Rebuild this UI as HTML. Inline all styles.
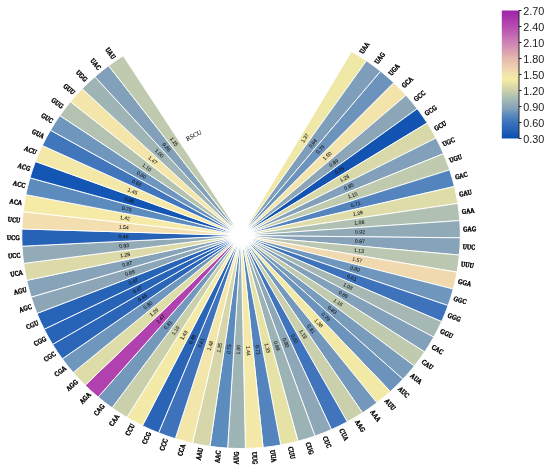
<!DOCTYPE html>
<html><head><meta charset="utf-8"><title>RSCU</title>
<style>html,body{margin:0;padding:0;background:#fff}svg{display:block}.v{font-family:"Liberation Sans",Arial,sans-serif;font-size:5.0px;fill:#1a1a1a;stroke:#1a1a1a;stroke-width:0.08px;text-anchor:middle}.l{font-family:"Liberation Serif","Times New Roman",serif;font-weight:bold;font-size:7.0px;fill:#111;stroke:#000;stroke-width:0.42px}.c{font-family:"Liberation Sans",Arial,sans-serif;font-size:10.3px;fill:#1a1a1a}</style></head><body>
<svg width="550" height="470" viewBox="0 0 550 470">
<rect width="550" height="470" fill="#fff"/>
<g transform="translate(241.05 235.5) scale(1.0294 1)">
<g stroke="#fff" stroke-width="0.9" stroke-linejoin="miter">
<path d="M0 0L107.30 -184.00A213.0 213.0 0 0 1 121.85 -174.70Z" fill="#efe8a6"/>
<path d="M0 0L121.85 -174.70A213.0 213.0 0 0 1 135.60 -164.26Z" fill="#7e9eba"/>
<path d="M0 0L135.60 -164.26A213.0 213.0 0 0 1 148.45 -152.74Z" fill="#6b93bc"/>
<path d="M0 0L148.45 -152.74A213.0 213.0 0 0 1 160.33 -140.22Z" fill="#f3e4ac"/>
<path d="M0 0L160.33 -140.22A213.0 213.0 0 0 1 171.16 -126.78Z" fill="#8ca6b8"/>
<path d="M0 0L171.16 -126.78A213.0 213.0 0 0 1 180.86 -112.50Z" fill="#1354b3"/>
<path d="M0 0L180.86 -112.50A213.0 213.0 0 0 1 189.38 -97.49Z" fill="#d8d8a9"/>
<path d="M0 0L189.38 -97.49A213.0 213.0 0 0 1 196.65 -81.83Z" fill="#82a0ba"/>
<path d="M0 0L196.65 -81.83A213.0 213.0 0 0 1 202.63 -65.64Z" fill="#c0caae"/>
<path d="M0 0L202.63 -65.64A213.0 213.0 0 0 1 207.28 -49.02Z" fill="#5384bd"/>
<path d="M0 0L207.28 -49.02A213.0 213.0 0 0 1 210.57 -32.07Z" fill="#dedca8"/>
<path d="M0 0L210.57 -32.07A213.0 213.0 0 0 1 212.48 -14.92Z" fill="#b0c0b2"/>
<path d="M0 0L212.48 -14.92A213.0 213.0 0 0 1 212.99 2.34Z" fill="#91aab7"/>
<path d="M0 0L212.99 2.34A213.0 213.0 0 0 1 212.10 19.57Z" fill="#87a3b9"/>
<path d="M0 0L212.10 19.57A213.0 213.0 0 0 1 209.82 36.68Z" fill="#bbc7b0"/>
<path d="M0 0L209.82 36.68A213.0 213.0 0 0 1 206.16 53.55Z" fill="#f1d9af"/>
<path d="M0 0L206.16 53.55A213.0 213.0 0 0 1 201.14 70.07Z" fill="#6f96bc"/>
<path d="M0 0L201.14 70.07A213.0 213.0 0 0 1 194.81 86.13Z" fill="#3e73bc"/>
<path d="M0 0L194.81 86.13A213.0 213.0 0 0 1 187.20 101.62Z" fill="#a5b8b4"/>
<path d="M0 0L187.20 101.62A213.0 213.0 0 0 1 178.35 116.44Z" fill="#82a0ba"/>
<path d="M0 0L178.35 116.44A213.0 213.0 0 0 1 168.34 130.50Z" fill="#c0caae"/>
<path d="M0 0L168.34 130.50A213.0 213.0 0 0 1 157.22 143.71Z" fill="#7a9cbb"/>
<path d="M0 0L157.22 143.71A213.0 213.0 0 0 1 145.07 155.96Z" fill="#6b93bc"/>
<path d="M0 0L145.07 155.96A213.0 213.0 0 0 1 131.96 167.20Z" fill="#f1e9a5"/>
<path d="M0 0L131.96 167.20A213.0 213.0 0 0 1 117.99 177.34Z" fill="#7398bb"/>
<path d="M0 0L117.99 177.34A213.0 213.0 0 0 1 103.24 186.31Z" fill="#cacfac"/>
<path d="M0 0L103.24 186.31A213.0 213.0 0 0 1 87.82 194.05Z" fill="#4074bc"/>
<path d="M0 0L87.82 194.05A213.0 213.0 0 0 1 71.82 200.53Z" fill="#8ea7b8"/>
<path d="M0 0L71.82 200.53A213.0 213.0 0 0 1 55.34 205.68Z" fill="#9cb3b5"/>
<path d="M0 0L55.34 205.68A213.0 213.0 0 0 1 38.51 209.49Z" fill="#e6e2a6"/>
<path d="M0 0L38.51 209.49A213.0 213.0 0 0 1 21.42 211.92Z" fill="#5384bd"/>
<path d="M0 0L21.42 211.92A213.0 213.0 0 0 1 4.19 212.96Z" fill="#f4e9a8"/>
<path d="M0 0L4.19 212.96A213.0 213.0 0 0 1 -13.07 212.60Z" fill="#9eb4b5"/>
<path d="M0 0L-13.07 212.60A213.0 213.0 0 0 1 -30.24 210.84Z" fill="#5c8bbd"/>
<path d="M0 0L-30.24 210.84A213.0 213.0 0 0 1 -47.22 207.70Z" fill="#d6d6aa"/>
<path d="M0 0L-47.22 207.70A213.0 213.0 0 0 1 -63.88 203.20Z" fill="#f3e6ab"/>
<path d="M0 0L-63.88 203.20A213.0 213.0 0 0 1 -80.12 197.36Z" fill="#3e73bc"/>
<path d="M0 0L-80.12 197.36A213.0 213.0 0 0 1 -95.84 190.22Z" fill="#2964b7"/>
<path d="M0 0L-95.84 190.22A213.0 213.0 0 0 1 -110.93 181.83Z" fill="#f4eaa7"/>
<path d="M0 0L-110.93 181.83A213.0 213.0 0 0 1 -125.29 172.26Z" fill="#cacfac"/>
<path d="M0 0L-125.29 172.26A213.0 213.0 0 0 1 -138.83 161.54Z" fill="#7398bb"/>
<path d="M0 0L-138.83 161.54A213.0 213.0 0 0 1 -151.45 149.77Z" fill="#b041ae"/>
<path d="M0 0L-151.45 149.77A213.0 213.0 0 0 1 -163.08 137.02Z" fill="#dedca8"/>
<path d="M0 0L-163.08 137.02A213.0 213.0 0 0 1 -173.64 123.36Z" fill="#6f96bc"/>
<path d="M0 0L-173.64 123.36A213.0 213.0 0 0 1 -183.06 108.90Z" fill="#2a65b8"/>
<path d="M0 0L-183.06 108.90A213.0 213.0 0 0 1 -191.27 93.72Z" fill="#2763b7"/>
<path d="M0 0L-191.27 93.72A213.0 213.0 0 0 1 -198.24 77.92Z" fill="#2763b7"/>
<path d="M0 0L-198.24 77.92A213.0 213.0 0 0 1 -203.89 61.61Z" fill="#8ca6b8"/>
<path d="M0 0L-203.89 61.61A213.0 213.0 0 0 1 -208.21 44.90Z" fill="#87a3b9"/>
<path d="M0 0L-208.21 44.90A213.0 213.0 0 0 1 -211.17 27.89Z" fill="#dcdaa8"/>
<path d="M0 0L-211.17 27.89A213.0 213.0 0 0 1 -212.73 10.70Z" fill="#93abb7"/>
<path d="M0 0L-212.73 10.70A213.0 213.0 0 0 1 -212.90 -6.56Z" fill="#2662b6"/>
<path d="M0 0L-212.90 -6.56A213.0 213.0 0 0 1 -211.67 -23.77Z" fill="#f2deae"/>
<path d="M0 0L-211.67 -23.77A213.0 213.0 0 0 1 -209.05 -40.84Z" fill="#f5eaa6"/>
<path d="M0 0L-209.05 -40.84A213.0 213.0 0 0 1 -205.06 -57.63Z" fill="#5c8bbd"/>
<path d="M0 0L-205.06 -57.63A213.0 213.0 0 0 1 -199.72 -74.04Z" fill="#1456b4"/>
<path d="M0 0L-199.72 -74.04A213.0 213.0 0 0 1 -193.06 -89.97Z" fill="#f4e8a8"/>
<path d="M0 0L-193.06 -89.97A213.0 213.0 0 0 1 -185.15 -105.31Z" fill="#4276bc"/>
<path d="M0 0L-185.15 -105.31A213.0 213.0 0 0 1 -176.01 -119.96Z" fill="#6f96bc"/>
<path d="M0 0L-176.01 -119.96A213.0 213.0 0 0 1 -165.72 -133.81Z" fill="#b4c3b1"/>
<path d="M0 0L-165.72 -133.81A213.0 213.0 0 0 1 -154.34 -146.79Z" fill="#f4e6aa"/>
<path d="M0 0L-154.34 -146.79A213.0 213.0 0 0 1 -141.95 -158.81Z" fill="#9eb4b5"/>
<path d="M0 0L-141.95 -158.81A213.0 213.0 0 0 1 -128.62 -169.78Z" fill="#82a0ba"/>
<path d="M0 0L-128.62 -169.78A213.0 213.0 0 0 1 -114.45 -179.64Z" fill="#c0caae"/>
</g>
<defs><radialGradient id="gl"><stop offset="0" stop-color="#fff" stop-opacity="1"/><stop offset="0.55" stop-color="#fff" stop-opacity="1"/><stop offset="0.8" stop-color="#fff" stop-opacity="0.55"/><stop offset="1" stop-color="#fff" stop-opacity="0"/></radialGradient></defs>
<circle cx="0" cy="0" r="15" fill="url(#gl)"/>
<text class="v" transform="translate(61.86 -96.83) rotate(-57.43)" x="0.7" dy="0.31em">1.37</text>
<text class="v" transform="translate(69.50 -91.50) rotate(-52.78)" x="0.7" dy="0.31em">0.84</text>
<text class="v" transform="translate(76.68 -85.57) rotate(-48.14)" x="0.7" dy="0.31em">0.79</text>
<text class="v" transform="translate(83.35 -79.08) rotate(-43.49)" x="0.7" dy="0.31em">1.50</text>
<text class="v" transform="translate(89.48 -72.07) rotate(-38.85)" x="0.7" dy="0.31em">0.89</text>
<text class="v" transform="translate(95.03 -64.59) rotate(-34.21)" x="0.7" dy="0.31em">0.35</text>
<text class="v" transform="translate(99.94 -56.69) rotate(-29.56)" x="0.7" dy="0.31em">1.26</text>
<text class="v" transform="translate(104.21 -48.41) rotate(-24.92)" x="0.7" dy="0.31em">0.85</text>
<text class="v" transform="translate(107.78 -39.81) rotate(-20.27)" x="0.7" dy="0.31em">1.15</text>
<text class="v" transform="translate(110.65 -30.95) rotate(-15.63)" x="0.7" dy="0.31em">0.71</text>
<text class="v" transform="translate(112.80 -21.89) rotate(-10.98)" x="0.7" dy="0.31em">1.29</text>
<text class="v" transform="translate(114.20 -12.68) rotate(-6.34)" x="0.7" dy="0.31em">1.08</text>
<text class="v" transform="translate(114.85 -3.40) rotate(-1.69)" x="0.7" dy="0.31em">0.92</text>
<text class="v" transform="translate(114.75 5.91) rotate(2.95)" x="0.7" dy="0.31em">0.87</text>
<text class="v" transform="translate(113.89 15.19) rotate(7.60)" x="0.7" dy="0.31em">1.13</text>
<text class="v" transform="translate(112.29 24.36) rotate(12.24)" x="0.7" dy="0.31em">1.57</text>
<text class="v" transform="translate(109.95 33.37) rotate(16.88)" x="0.7" dy="0.31em">0.80</text>
<text class="v" transform="translate(106.88 42.16) rotate(21.53)" x="0.7" dy="0.31em">0.61</text>
<text class="v" transform="translate(103.12 50.68) rotate(26.17)" x="0.7" dy="0.31em">1.03</text>
<text class="v" transform="translate(98.68 58.86) rotate(30.82)" x="0.7" dy="0.31em">0.85</text>
<text class="v" transform="translate(93.59 66.66) rotate(35.46)" x="0.7" dy="0.31em">1.15</text>
<text class="v" transform="translate(87.88 74.02) rotate(40.11)" x="0.7" dy="0.31em">0.83</text>
<text class="v" transform="translate(81.60 80.89) rotate(44.75)" x="0.7" dy="0.31em">0.79</text>
<text class="v" transform="translate(74.78 87.23) rotate(49.40)" x="0.7" dy="0.31em">1.38</text>
<text class="v" transform="translate(67.47 93.00) rotate(54.04)" x="0.7" dy="0.31em">0.81</text>
<text class="v" transform="translate(59.72 98.16) rotate(58.68)" x="0.7" dy="0.31em">1.19</text>
<text class="v" transform="translate(51.57 102.67) rotate(63.33)" x="0.7" dy="0.31em">0.62</text>
<text class="v" transform="translate(43.09 106.51) rotate(67.97)" x="0.7" dy="0.31em">0.90</text>
<text class="v" transform="translate(34.32 109.65) rotate(72.62)" x="0.7" dy="0.31em">0.99</text>
<text class="v" transform="translate(25.33 112.07) rotate(77.26)" x="0.7" dy="0.31em">1.33</text>
<text class="v" transform="translate(16.18 113.76) rotate(81.91)" x="0.7" dy="0.31em">0.71</text>
<text class="v" transform="translate(6.91 114.69) rotate(86.55)" x="0.7" dy="0.31em">1.44</text>
<text class="v" transform="translate(-2.40 114.87) rotate(-88.80)" x="0.7" dy="0.31em">1.00</text>
<text class="v" transform="translate(-11.69 114.30) rotate(-84.16)" x="0.7" dy="0.31em">0.75</text>
<text class="v" transform="translate(-20.91 112.98) rotate(-79.51)" x="0.7" dy="0.31em">1.25</text>
<text class="v" transform="translate(-29.99 110.92) rotate(-74.87)" x="0.7" dy="0.31em">1.48</text>
<text class="v" transform="translate(-38.87 108.12) rotate(-70.23)" x="0.7" dy="0.31em">0.61</text>
<text class="v" transform="translate(-47.50 104.62) rotate(-65.58)" x="0.7" dy="0.31em">0.48</text>
<text class="v" transform="translate(-55.82 100.43) rotate(-60.94)" x="0.7" dy="0.31em">1.43</text>
<text class="v" transform="translate(-63.76 95.58) rotate(-56.29)" x="0.7" dy="0.31em">1.19</text>
<text class="v" transform="translate(-71.29 90.11) rotate(-51.65)" x="0.7" dy="0.31em">0.81</text>
<text class="v" transform="translate(-78.36 84.04) rotate(-47.00)" x="0.7" dy="0.31em">2.47</text>
<text class="v" transform="translate(-84.90 77.42) rotate(-42.36)" x="0.7" dy="0.31em">1.29</text>
<text class="v" transform="translate(-90.89 70.29) rotate(-37.71)" x="0.7" dy="0.31em">0.80</text>
<text class="v" transform="translate(-96.29 62.70) rotate(-33.07)" x="0.7" dy="0.31em">0.49</text>
<text class="v" transform="translate(-101.05 54.69) rotate(-28.43)" x="0.7" dy="0.31em">0.47</text>
<text class="v" transform="translate(-105.14 46.33) rotate(-23.78)" x="0.7" dy="0.31em">0.47</text>
<text class="v" transform="translate(-108.55 37.67) rotate(-19.14)" x="0.7" dy="0.31em">0.89</text>
<text class="v" transform="translate(-111.24 28.75) rotate(-14.49)" x="0.7" dy="0.31em">0.87</text>
<text class="v" transform="translate(-113.21 19.65) rotate(-9.85)" x="0.7" dy="0.31em">1.28</text>
<text class="v" transform="translate(-114.43 10.42) rotate(-5.20)" x="0.7" dy="0.31em">0.93</text>
<text class="v" transform="translate(-114.89 1.12) rotate(-0.56)" x="0.7" dy="0.31em">0.46</text>
<text class="v" transform="translate(-114.61 -8.19) rotate(4.09)" x="0.7" dy="0.31em">1.54</text>
<text class="v" transform="translate(-113.57 -17.44) rotate(8.73)" x="0.7" dy="0.31em">1.42</text>
<text class="v" transform="translate(-111.78 -26.58) rotate(13.38)" x="0.7" dy="0.31em">0.75</text>
<text class="v" transform="translate(-109.26 -35.54) rotate(18.02)" x="0.7" dy="0.31em">0.36</text>
<text class="v" transform="translate(-106.03 -44.27) rotate(22.66)" x="0.7" dy="0.31em">1.45</text>
<text class="v" transform="translate(-102.09 -52.71) rotate(27.31)" x="0.7" dy="0.31em">0.63</text>
<text class="v" transform="translate(-97.49 -60.81) rotate(31.95)" x="0.7" dy="0.31em">0.80</text>
<text class="v" transform="translate(-92.25 -68.50) rotate(36.60)" x="0.7" dy="0.31em">1.10</text>
<text class="v" transform="translate(-86.40 -75.75) rotate(41.24)" x="0.7" dy="0.31em">1.47</text>
<text class="v" transform="translate(-79.98 -82.49) rotate(45.89)" x="0.7" dy="0.31em">1.00</text>
<text class="v" transform="translate(-73.04 -88.70) rotate(50.53)" x="0.7" dy="0.31em">0.85</text>
<text class="v" transform="translate(-65.61 -94.32) rotate(55.18)" x="0.7" dy="0.31em">1.15</text>
<text class="l" text-anchor="start" transform="translate(116.56 -182.46) rotate(-57.43) scale(0.81 1)" dy="0.33em">UAA</text>
<text class="l" text-anchor="start" transform="translate(130.92 -172.38) rotate(-52.78) scale(0.81 1)" dy="0.33em">UAG</text>
<text class="l" text-anchor="start" transform="translate(144.41 -161.16) rotate(-48.14) scale(0.81 1)" dy="0.33em">UGA</text>
<text class="l" text-anchor="start" transform="translate(156.93 -148.89) rotate(-43.49) scale(0.81 1)" dy="0.33em">GCA</text>
<text class="l" text-anchor="start" transform="translate(168.42 -135.65) rotate(-38.85) scale(0.81 1)" dy="0.33em">GCC</text>
<text class="l" text-anchor="start" transform="translate(178.78 -121.52) rotate(-34.21) scale(0.81 1)" dy="0.33em">GCG</text>
<text class="l" text-anchor="start" transform="translate(187.96 -106.61) rotate(-29.56) scale(0.81 1)" dy="0.33em">GCU</text>
<text class="l" text-anchor="start" transform="translate(195.90 -91.00) rotate(-24.92) scale(0.81 1)" dy="0.33em">UGC</text>
<text class="l" text-anchor="start" transform="translate(202.54 -74.81) rotate(-20.27) scale(0.81 1)" dy="0.33em">UGU</text>
<text class="l" text-anchor="start" transform="translate(207.85 -58.14) rotate(-15.63) scale(0.81 1)" dy="0.33em">GAC</text>
<text class="l" text-anchor="start" transform="translate(211.78 -41.10) rotate(-10.98) scale(0.81 1)" dy="0.33em">GAU</text>
<text class="l" text-anchor="start" transform="translate(214.31 -23.81) rotate(-6.34) scale(0.81 1)" dy="0.33em">GAA</text>
<text class="l" text-anchor="start" transform="translate(215.44 -6.37) rotate(-1.69) scale(0.81 1)" dy="0.33em">GAG</text>
<text class="l" text-anchor="start" transform="translate(215.28 11.10) rotate(2.95) scale(0.81 1)" dy="0.33em">UUC</text>
<text class="l" text-anchor="start" transform="translate(213.77 28.50) rotate(7.60) scale(0.81 1)" dy="0.33em">UUU</text>
<text class="l" text-anchor="start" transform="translate(210.85 45.74) rotate(12.24) scale(0.81 1)" dy="0.33em">GGA</text>
<text class="l" text-anchor="start" transform="translate(206.54 62.69) rotate(16.88) scale(0.81 1)" dy="0.33em">GGC</text>
<text class="l" text-anchor="start" transform="translate(200.87 79.24) rotate(21.53) scale(0.81 1)" dy="0.33em">GGG</text>
<text class="l" text-anchor="start" transform="translate(193.88 95.29) rotate(26.17) scale(0.81 1)" dy="0.33em">GGU</text>
<text class="l" text-anchor="start" transform="translate(185.60 110.72) rotate(30.82) scale(0.81 1)" dy="0.33em">CAC</text>
<text class="l" text-anchor="start" transform="translate(176.09 125.43) rotate(35.46) scale(0.81 1)" dy="0.33em">CAU</text>
<text class="l" text-anchor="start" transform="translate(165.42 139.33) rotate(40.11) scale(0.81 1)" dy="0.33em">AUA</text>
<text class="l" text-anchor="start" transform="translate(153.64 152.31) rotate(44.75) scale(0.81 1)" dy="0.33em">AUC</text>
<text class="l" text-anchor="start" transform="translate(140.85 164.30) rotate(49.40) scale(0.81 1)" dy="0.33em">AUU</text>
<text class="l" text-anchor="start" transform="translate(127.12 175.22) rotate(54.04) scale(0.81 1)" dy="0.33em">AAA</text>
<text class="l" text-anchor="start" transform="translate(112.54 184.98) rotate(58.68) scale(0.81 1)" dy="0.33em">AAG</text>
<text class="l" text-anchor="start" transform="translate(97.21 193.53) rotate(63.33) scale(0.81 1)" dy="0.33em">CUA</text>
<text class="l" text-anchor="start" transform="translate(81.24 200.80) rotate(67.97) scale(0.81 1)" dy="0.33em">CUC</text>
<text class="l" text-anchor="start" transform="translate(64.72 206.75) rotate(72.62) scale(0.81 1)" dy="0.33em">CUG</text>
<text class="l" text-anchor="start" transform="translate(47.77 211.34) rotate(77.26) scale(0.81 1)" dy="0.33em">CUU</text>
<text class="l" text-anchor="start" transform="translate(30.50 214.53) rotate(81.91) scale(0.81 1)" dy="0.33em">UUA</text>
<text class="l" text-anchor="start" transform="translate(13.03 216.31) rotate(86.55) scale(0.81 1)" dy="0.33em">UUG</text>
<text class="l" text-anchor="end" transform="translate(-4.51 216.15) rotate(-88.80) scale(0.81 1)" dy="0.33em">AUG</text>
<text class="l" text-anchor="end" transform="translate(-22.00 215.07) rotate(-84.16) scale(0.81 1)" dy="0.33em">AAC</text>
<text class="l" text-anchor="end" transform="translate(-39.34 212.57) rotate(-79.51) scale(0.81 1)" dy="0.33em">AAU</text>
<text class="l" text-anchor="end" transform="translate(-56.42 208.67) rotate(-74.87) scale(0.81 1)" dy="0.33em">CCA</text>
<text class="l" text-anchor="end" transform="translate(-73.12 203.38) rotate(-70.23) scale(0.81 1)" dy="0.33em">CCC</text>
<text class="l" text-anchor="end" transform="translate(-89.33 196.76) rotate(-65.58) scale(0.81 1)" dy="0.33em">CCG</text>
<text class="l" text-anchor="end" transform="translate(-104.95 188.84) rotate(-60.94) scale(0.81 1)" dy="0.33em">CCU</text>
<text class="l" text-anchor="end" transform="translate(-119.87 179.68) rotate(-56.29) scale(0.81 1)" dy="0.33em">CAA</text>
<text class="l" text-anchor="end" transform="translate(-133.99 169.34) rotate(-51.65) scale(0.81 1)" dy="0.33em">CAG</text>
<text class="l" text-anchor="end" transform="translate(-147.22 157.89) rotate(-47.00) scale(0.81 1)" dy="0.33em">AGA</text>
<text class="l" text-anchor="end" transform="translate(-159.47 145.41) rotate(-42.36) scale(0.81 1)" dy="0.33em">AGG</text>
<text class="l" text-anchor="end" transform="translate(-170.66 131.97) rotate(-37.71) scale(0.81 1)" dy="0.33em">CGA</text>
<text class="l" text-anchor="end" transform="translate(-180.72 117.67) rotate(-33.07) scale(0.81 1)" dy="0.33em">CGC</text>
<text class="l" text-anchor="end" transform="translate(-189.58 102.61) rotate(-28.43) scale(0.81 1)" dy="0.33em">CGG</text>
<text class="l" text-anchor="end" transform="translate(-197.19 86.89) rotate(-23.78) scale(0.81 1)" dy="0.33em">CGU</text>
<text class="l" text-anchor="end" transform="translate(-203.49 70.61) rotate(-19.14) scale(0.81 1)" dy="0.33em">AGC</text>
<text class="l" text-anchor="end" transform="translate(-208.45 53.88) rotate(-14.49) scale(0.81 1)" dy="0.33em">AGU</text>
<text class="l" text-anchor="end" transform="translate(-212.03 36.80) rotate(-9.85) scale(0.81 1)" dy="0.33em">UCA</text>
<text class="l" text-anchor="end" transform="translate(-214.22 19.51) rotate(-5.20) scale(0.81 1)" dy="0.33em">UCC</text>
<text class="l" text-anchor="end" transform="translate(-215.00 2.09) rotate(-0.56) scale(0.81 1)" dy="0.33em">UCG</text>
<text class="l" text-anchor="end" transform="translate(-214.54 -15.33) rotate(4.09) scale(0.81 1)" dy="0.33em">UCU</text>
<text class="l" text-anchor="end" transform="translate(-212.69 -32.66) rotate(8.73) scale(0.81 1)" dy="0.33em">ACA</text>
<text class="l" text-anchor="end" transform="translate(-209.44 -49.80) rotate(13.38) scale(0.81 1)" dy="0.33em">ACC</text>
<text class="l" text-anchor="end" transform="translate(-204.81 -66.62) rotate(18.02) scale(0.81 1)" dy="0.33em">ACG</text>
<text class="l" text-anchor="end" transform="translate(-198.82 -83.02) rotate(22.66) scale(0.81 1)" dy="0.33em">ACU</text>
<text class="l" text-anchor="end" transform="translate(-191.53 -98.89) rotate(27.31) scale(0.81 1)" dy="0.33em">GUA</text>
<text class="l" text-anchor="end" transform="translate(-182.96 -114.12) rotate(31.95) scale(0.81 1)" dy="0.33em">GUC</text>
<text class="l" text-anchor="end" transform="translate(-173.19 -128.61) rotate(36.60) scale(0.81 1)" dy="0.33em">GUG</text>
<text class="l" text-anchor="end" transform="translate(-162.26 -142.26) rotate(41.24) scale(0.81 1)" dy="0.33em">GUU</text>
<text class="l" text-anchor="end" transform="translate(-150.26 -154.98) rotate(45.89) scale(0.81 1)" dy="0.33em">UGG</text>
<text class="l" text-anchor="end" transform="translate(-137.26 -166.69) rotate(50.53) scale(0.81 1)" dy="0.33em">UAC</text>
<text class="l" text-anchor="end" transform="translate(-123.34 -177.30) rotate(55.18) scale(0.81 1)" dy="0.33em">UAU</text>
<text transform="translate(-45.88 -99.98) rotate(-26.00)" style="font-family:'Liberation Serif',serif;font-size:6.2px;fill:#111;stroke:#111;stroke-width:0.1px;text-anchor:middle" dy="0.33em">RSCU</text>
</g>
<defs><linearGradient id="cb" x1="0" y1="1" x2="0" y2="0">
<stop offset="0.0000" stop-color="#0a4eb2"/>
<stop offset="0.0625" stop-color="#2461b6"/>
<stop offset="0.1250" stop-color="#3c71bc"/>
<stop offset="0.1875" stop-color="#5c8bbd"/>
<stop offset="0.2292" stop-color="#82a0ba"/>
<stop offset="0.2500" stop-color="#8ea7b8"/>
<stop offset="0.2917" stop-color="#9eb4b5"/>
<stop offset="0.3333" stop-color="#b4c3b1"/>
<stop offset="0.3750" stop-color="#ccd0ac"/>
<stop offset="0.4167" stop-color="#e0dda7"/>
<stop offset="0.4583" stop-color="#f5eca5"/>
<stop offset="0.5000" stop-color="#f3e4ac"/>
<stop offset="0.5417" stop-color="#f0d4b0"/>
<stop offset="0.6250" stop-color="#e5b9ad"/>
<stop offset="0.7500" stop-color="#ce81b5"/>
<stop offset="0.8750" stop-color="#b64bb0"/>
<stop offset="1.0000" stop-color="#9e22a8"/>
</linearGradient></defs>
<rect x="501.8" y="10.5" width="17.19999999999999" height="128.0" fill="url(#cb)"/>
<line x1="519.0" y1="10.5" x2="519.0" y2="138.5" stroke="#222" stroke-width="1"/>
<line x1="519.0" y1="10.50" x2="521.5" y2="10.50" stroke="#222" stroke-width="1"/>
<text class="c" transform="translate(523.3 11.15) scale(1.05 1)" dy="0.36em">2.70</text>
<line x1="519.0" y1="26.50" x2="521.5" y2="26.50" stroke="#222" stroke-width="1"/>
<text class="c" transform="translate(523.3 27.15) scale(1.05 1)" dy="0.36em">2.40</text>
<line x1="519.0" y1="42.50" x2="521.5" y2="42.50" stroke="#222" stroke-width="1"/>
<text class="c" transform="translate(523.3 43.15) scale(1.05 1)" dy="0.36em">2.10</text>
<line x1="519.0" y1="58.50" x2="521.5" y2="58.50" stroke="#222" stroke-width="1"/>
<text class="c" transform="translate(523.3 59.15) scale(1.05 1)" dy="0.36em">1.80</text>
<line x1="519.0" y1="74.50" x2="521.5" y2="74.50" stroke="#222" stroke-width="1"/>
<text class="c" transform="translate(523.3 75.15) scale(1.05 1)" dy="0.36em">1.50</text>
<line x1="519.0" y1="90.50" x2="521.5" y2="90.50" stroke="#222" stroke-width="1"/>
<text class="c" transform="translate(523.3 91.15) scale(1.05 1)" dy="0.36em">1.20</text>
<line x1="519.0" y1="106.50" x2="521.5" y2="106.50" stroke="#222" stroke-width="1"/>
<text class="c" transform="translate(523.3 107.15) scale(1.05 1)" dy="0.36em">0.90</text>
<line x1="519.0" y1="122.50" x2="521.5" y2="122.50" stroke="#222" stroke-width="1"/>
<text class="c" transform="translate(523.3 123.15) scale(1.05 1)" dy="0.36em">0.60</text>
<line x1="519.0" y1="138.50" x2="521.5" y2="138.50" stroke="#222" stroke-width="1"/>
<text class="c" transform="translate(523.3 139.15) scale(1.05 1)" dy="0.36em">0.30</text>
</svg></body></html>
